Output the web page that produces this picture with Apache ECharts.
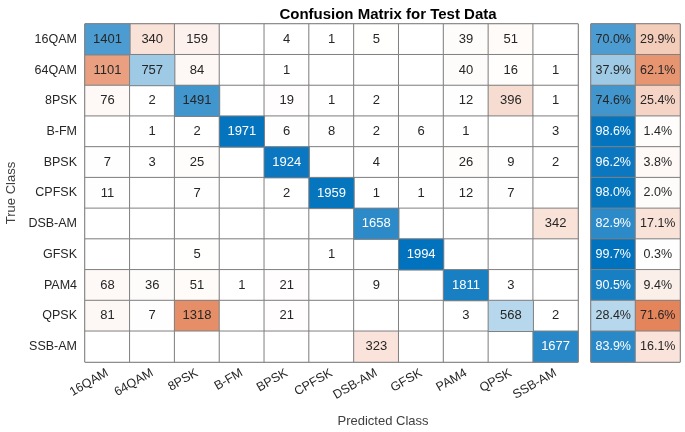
<!DOCTYPE html>
<html><head><meta charset="utf-8">
<script src="https://cdn.jsdelivr.net/npm/echarts@6/dist/echarts.min.js"></script>
<style>html,body{margin:0;padding:0;background:#fff}#c{width:685px;height:432px}</style>
</head><body><div id="c"></div>
<script>
var classes = ['16QAM','64QAM','8PSK','B-FM','BPSK','CPFSK','DSB-AM','GFSK','PAM4','QPSK','SSB-AM'];
var counts = [
  [1401, 340, 159,    0,    4,    1,    5,    0,   39,  51,    0],
  [1101, 757,  84,    0,    1,    0,    0,    0,   40,  16,    1],
  [  76,   2,1491,    0,   19,    1,    2,    0,   12, 396,    1],
  [   0,   1,   2, 1971,    6,    8,    2,    6,    1,   0,    3],
  [   7,   3,  25,    0, 1924,    0,    4,    0,   26,   9,    2],
  [  11,   0,   7,    0,    2, 1959,    1,    1,   12,   7,    0],
  [   0,   0,   0,    0,    0,    0, 1658,    0,    0,   0,  342],
  [   0,   0,   5,    0,    0,    1,    0, 1994,    0,   0,    0],
  [  68,  36,  51,    1,   21,    0,    9,    0, 1811,   3,    0],
  [  81,   7,1318,    0,   21,    0,    0,    0,    3, 568,    2],
  [   0,   0,   0,    0,    0,    0,  323,    0,    0,   0, 1677]
];
var correctPct   = [70.0, 37.9, 74.6, 98.6, 96.2, 98.0, 82.9, 99.7, 90.5, 28.4, 83.9];
var incorrectPct = [29.9, 62.1, 25.4,  1.4,  3.8,  2.0, 17.1,  0.3,  9.4, 71.6, 16.1];

var BLUE = [0, 114, 189], ORANGE = [217, 83, 25];
function mix(c, t) {
  t = Math.max(0, Math.min(1, t));
  var r = Math.round(255 - t * (255 - c[0]));
  var g = Math.round(255 - t * (255 - c[1]));
  var b = Math.round(255 - t * (255 - c[2]));
  return 'rgb(' + r + ',' + g + ',' + b + ')';
}
var FONT = 'Liberation Sans, Arial, sans-serif';
var diagData = [], offData = [];
for (var i = 0; i < classes.length; i++) {
  for (var j = 0; j < classes.length; j++) {
    var v = counts[i][j];
    var t = v / 2000;
    var item = {
      value: [j, i, v],
      itemStyle: { color: v === 0 ? '#ffffff' : mix(i === j ? BLUE : ORANGE, t) },
      label: { color: t > 0.8 ? '#ffffff' : '#262626' }
    };
    (i === j ? diagData : offData).push(item);
  }
}
var sumData = [];
for (var k = 0; k < classes.length; k++) {
  sumData.push({ value: [0, k, correctPct[k]], itemStyle: { color: mix(BLUE, correctPct[k] / 100) },
    label: { color: correctPct[k] > 80 ? '#ffffff' : '#262626' } });
  sumData.push({ value: [1, k, incorrectPct[k]], itemStyle: { color: mix(ORANGE, incorrectPct[k] / 100) },
    label: { color: incorrectPct[k] > 80 ? '#ffffff' : '#262626' } });
}
var cellStyle = { borderColor: '#808080', borderWidth: 1 };
var chart = echarts.init(document.getElementById('c'), null, { renderer: 'canvas' });
chart.setOption({
  animation: false,
  textStyle: { fontFamily: FONT },
  title: {
    text: 'Confusion Matrix for Test Data', left: 383, top: 2, textAlign: 'center',
    textStyle: { fontFamily: FONT, fontSize: 15, fontWeight: 'bold', color: '#000' }
  },
  grid: [
    { left: 85, top: 24, width: 493, height: 338, show: true, borderColor: '#555', borderWidth: 1, backgroundColor: 'transparent', containLabel: false, outerBoundsMode: 'none' },
    { left: 591, top: 24, width: 89, height: 338, show: true, borderColor: '#555', borderWidth: 1, backgroundColor: 'transparent', containLabel: false, outerBoundsMode: 'none' }
  ],
  xAxis: [
    { type: 'category', gridIndex: 0, data: classes, position: 'bottom',
      name: 'Predicted Class', nameLocation: 'middle', nameGap: 53,
      nameTextStyle: { fontFamily: FONT, fontSize: 13, color: '#404040', padding: [0, 0, 0, 103] },
      axisLine: { show: false }, axisTick: { show: false }, splitLine: { show: false },
      axisLabel: { rotate: 30, fontFamily: FONT, fontSize: 12.5, color: '#262626', interval: 0, margin: 10 } },
    { type: 'category', gridIndex: 1, data: ['Correct', 'Incorrect'],
      axisLine: { show: false }, axisTick: { show: false }, axisLabel: { show: false } }
  ],
  yAxis: [
    { type: 'category', gridIndex: 0, data: classes, inverse: true,
      name: 'True Class', nameLocation: 'middle', nameGap: 67, nameRotate: 90,
      nameTextStyle: { fontFamily: FONT, fontSize: 13, color: '#404040' },
      axisLine: { show: false }, axisTick: { show: false },
      axisLabel: { fontFamily: FONT, fontSize: 12.5, color: '#262626', margin: 8 } },
    { type: 'category', gridIndex: 1, data: classes, inverse: true,
      axisLine: { show: false }, axisTick: { show: false }, axisLabel: { show: false } }
  ],
  series: [
    { type: 'heatmap', xAxisIndex: 0, yAxisIndex: 0, data: offData, itemStyle: cellStyle,
      label: { show: true, fontFamily: FONT, fontSize: 13, formatter: function (p) { return p.value[2] === 0 ? '' : String(p.value[2]); } },
      emphasis: { disabled: true } },
    { type: 'heatmap', xAxisIndex: 0, yAxisIndex: 0, data: diagData, itemStyle: cellStyle,
      label: { show: true, fontFamily: FONT, fontSize: 13, formatter: function (p) { return p.value[2] === 0 ? '' : String(p.value[2]); } },
      emphasis: { disabled: true } },
    { type: 'heatmap', xAxisIndex: 1, yAxisIndex: 1, data: sumData, itemStyle: cellStyle,
      label: { show: true, fontFamily: FONT, fontSize: 12.5, formatter: function (p) { return p.value[2].toFixed(1) + '%'; } },
      emphasis: { disabled: true } }
  ]
});
</script></body></html>
